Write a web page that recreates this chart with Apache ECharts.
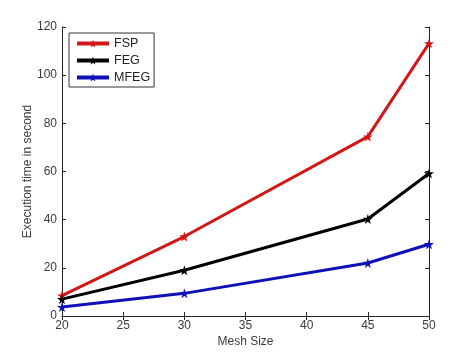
<!DOCTYPE html>
<html><head><meta charset="utf-8">
<script src="https://cdn.jsdelivr.net/npm/echarts@6/dist/echarts.min.js"></script>
<style>html,body{margin:0;padding:0;background:#fff}#c{width:474px;height:355px}</style>
</head><body><div id="c"></div>
<script>
const meshSize = [20, 30, 45, 50];
const fsp = [8.5, 33, 74.5, 113.2];
const feg = [7, 19, 40.3, 59.2];
const mfeg = [3.7, 9.4, 22, 29.8];
const seriesNames = ['FSP', 'FEG', 'MFEG'];
const seriesColors = ['#d01818', '#000000', '#1010b8'];
const xTicks = {min: 20, max: 50, interval: 5};
const yTicks = {min: 0, max: 120, interval: 20};

const star = 'path://M50,0 L61,35 L98,35 L68,57 L79,91 L50,70 L21,91 L32,57 L2,35 L39,35 Z';
const txt = {fontFamily: 'Liberation Sans, Arial, sans-serif', fontSize: 12, color: '#3a3a3a'};
function pairs(vals){ return meshSize.map((x,i)=>[x, vals[i]]); }
const allVals = [fsp, feg, mfeg];
const chart = echarts.init(document.getElementById('c'));
chart.setOption({
  animation: false,
  backgroundColor: '#fff',
  grid: {left: 62, right: 45, top: 27, bottom: 39, show: false},
  legend: {
    left: 69, top: 33, orient: 'vertical',
    data: seriesNames.map(n => ({name: n, itemStyle: {}, lineStyle: {width: 4}})),
    itemWidth: 32, itemHeight: 10, itemGap: 4,
    padding: [4, 4, 3, 6],
    borderColor: '#333', borderWidth: 1, backgroundColor: '#fff',
    textStyle: Object.assign({}, txt, {color: '#222', fontSize: 12.5})
  },
  xAxis: [{
    type: 'value', min: xTicks.min, max: xTicks.max, interval: xTicks.interval,
    name: 'Mesh Size', nameLocation: 'middle', nameGap: 20, nameTextStyle: txt, nameMoveOverlap: false,
    axisLine: {lineStyle: {color: '#222'}},
    axisTick: {inside: true, length: 4, lineStyle: {color: '#222'}},
    axisLabel: Object.assign({margin: 4}, txt),
    splitLine: {show: false}
  }, {
    type: 'value', position: 'top', min: xTicks.min, max: xTicks.max, interval: xTicks.interval,
    axisLine: {lineStyle: {color: '#222'}},
    axisTick: {inside: true, length: 4, lineStyle: {color: '#222'}},
    axisLabel: {show: false}, splitLine: {show: false}
  }],
  yAxis: [{
    type: 'value', min: yTicks.min, max: yTicks.max, interval: yTicks.interval,
    name: 'Execution time in second', nameLocation: 'middle', nameGap: 28, nameTextStyle: txt, nameMoveOverlap: false,
    axisLine: {show: true, lineStyle: {color: '#222'}},
    axisTick: {show: true, inside: true, length: 4, lineStyle: {color: '#222'}},
    axisLabel: Object.assign({margin: 5}, txt),
    splitLine: {show: false}
  }, {
    type: 'value', position: 'right', min: yTicks.min, max: yTicks.max, interval: yTicks.interval,
    axisLine: {show: true, lineStyle: {color: '#222'}},
    axisTick: {show: true, inside: true, length: 4, lineStyle: {color: '#222'}},
    axisLabel: {show: false}, splitLine: {show: false}
  }],
  series: seriesNames.map((n, i) => ({
    name: n, type: 'line', data: pairs(allVals[i]),
    color: seriesColors[i],
    lineStyle: {width: 3, color: seriesColors[i]},
    symbol: star, symbolSize: 10, showSymbol: true,
    itemStyle: {color: seriesColors[i]}
  }))
});
</script></body></html>
